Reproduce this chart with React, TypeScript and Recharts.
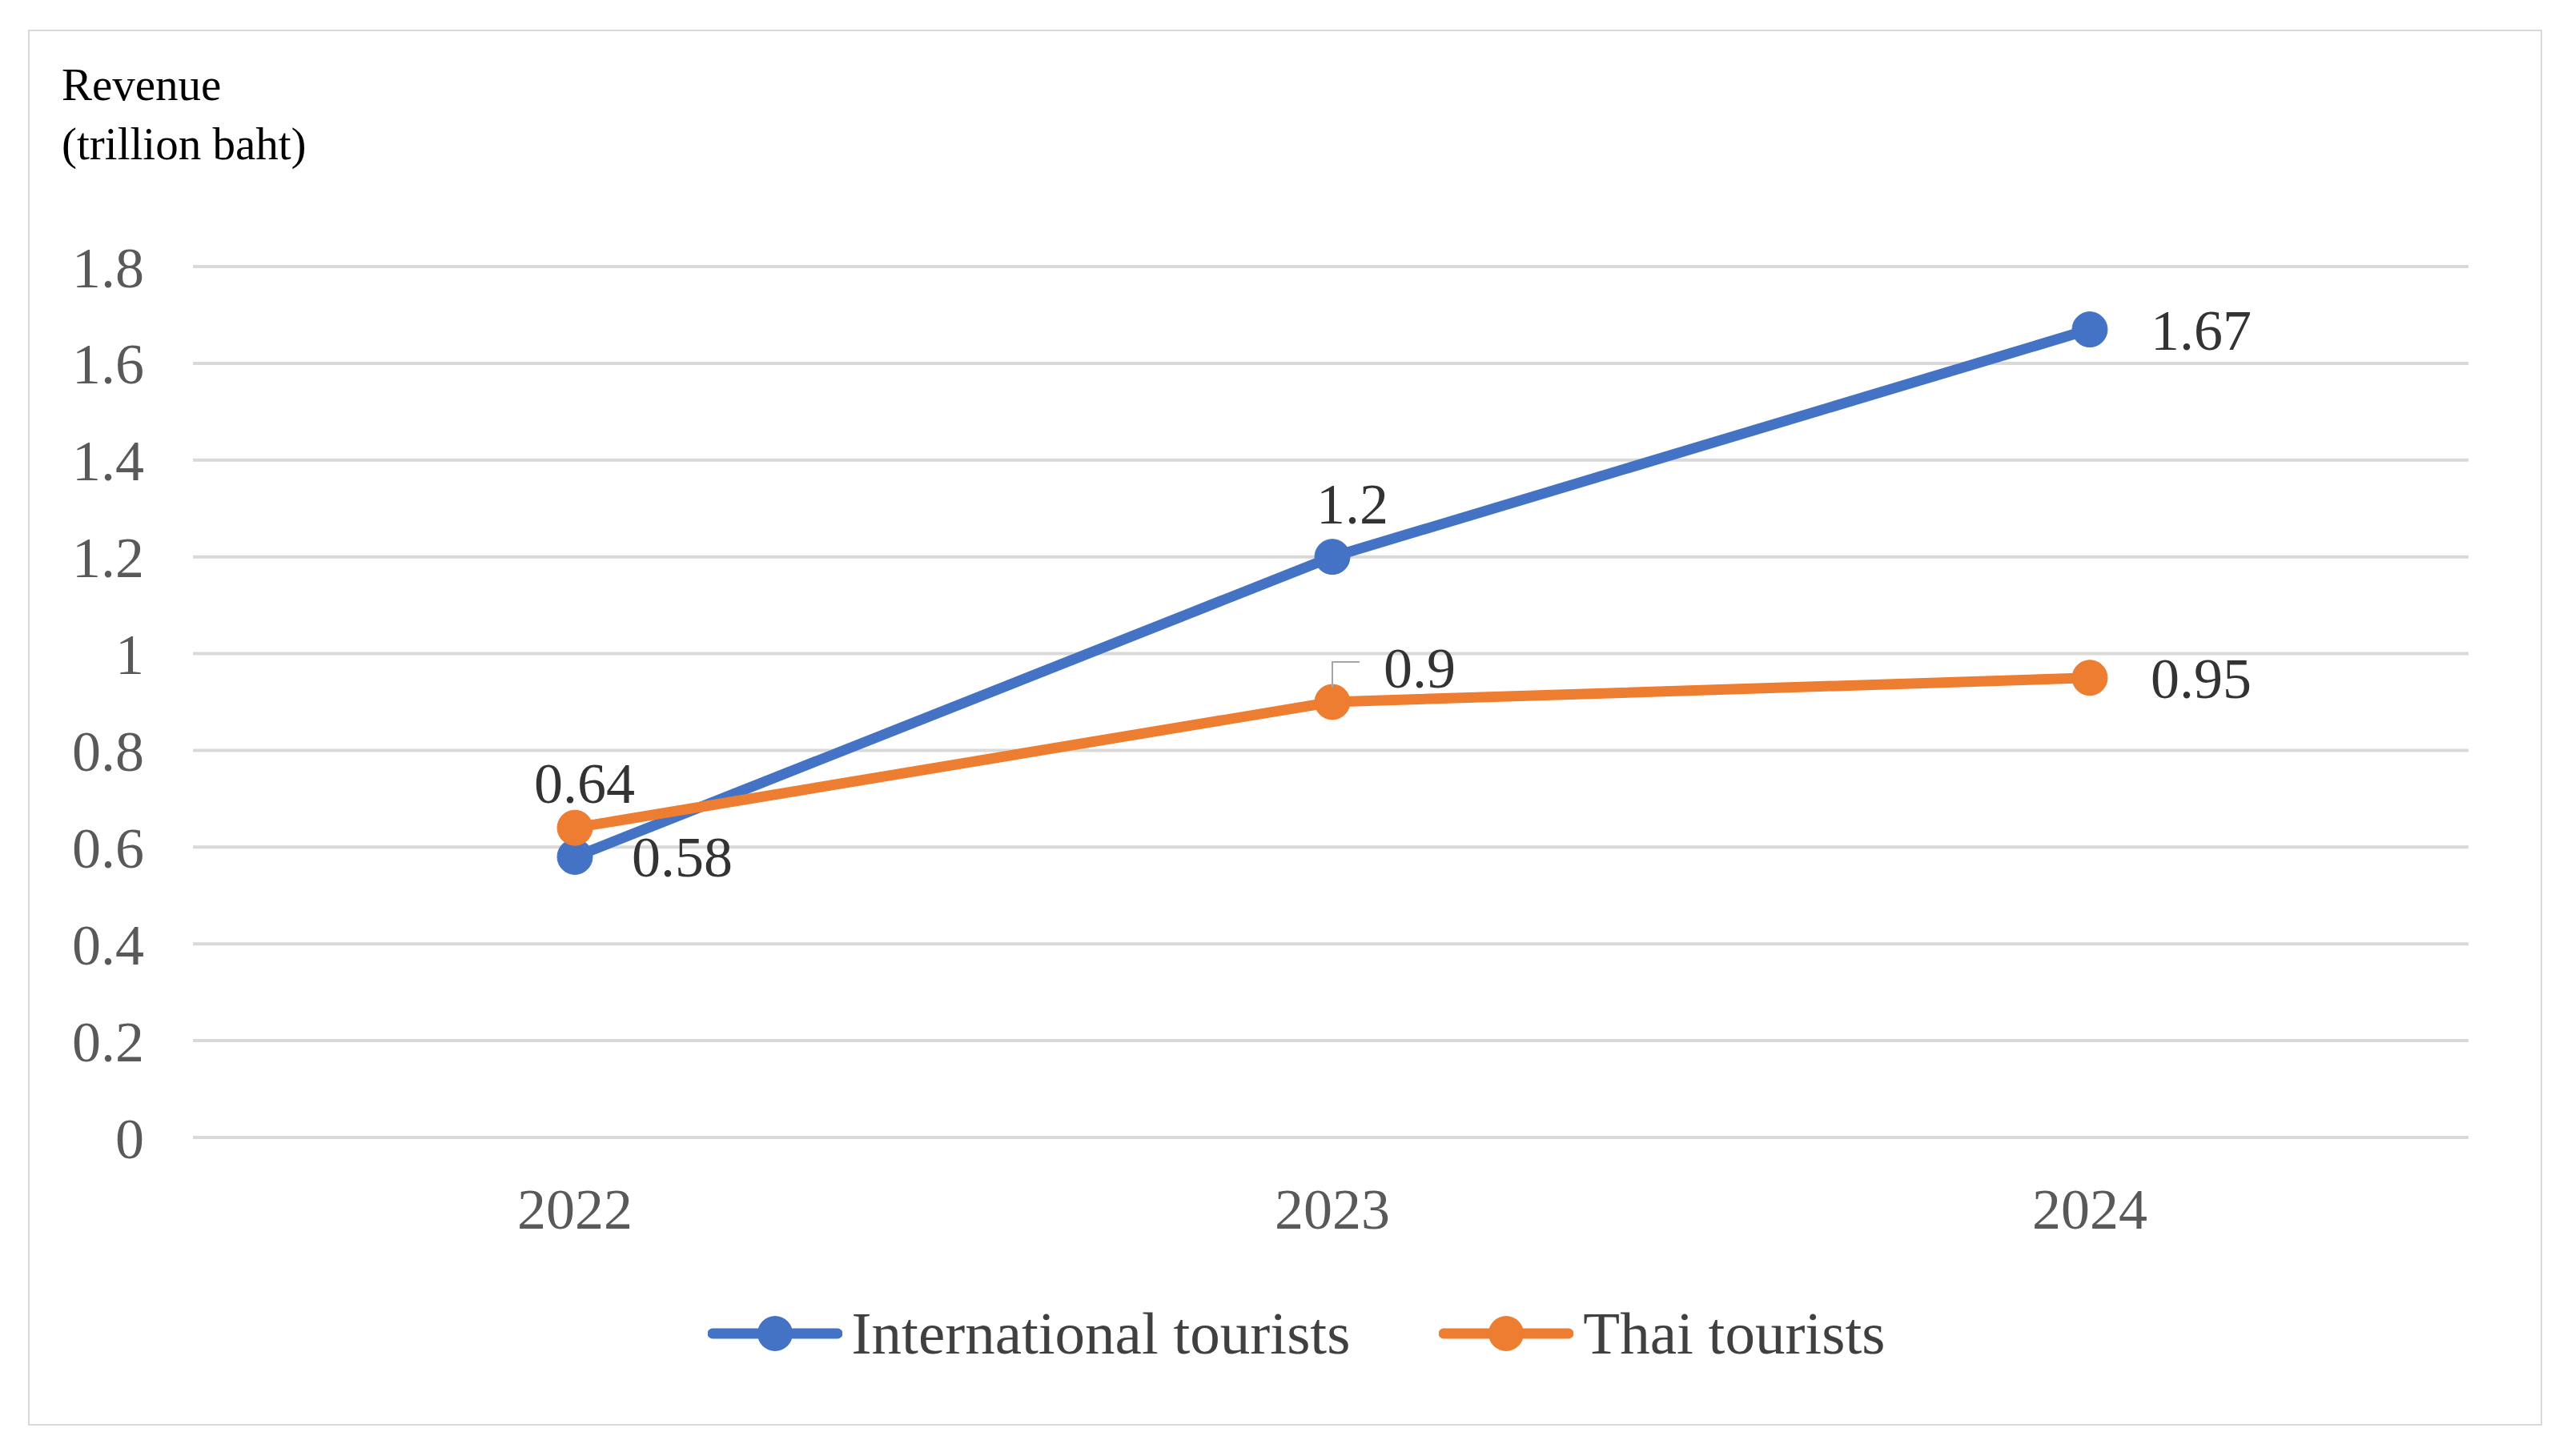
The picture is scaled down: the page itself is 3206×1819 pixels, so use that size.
import React from "react";
import {
  LineChart,
  Line,
  XAxis,
  YAxis,
  CartesianGrid,
  LabelList,
} from "recharts";

// Chart data
const years = ["2022", "2023", "2024"];
const internationalTourists = [0.58, 1.2, 1.67];
const thaiTourists = [0.64, 0.9, 0.95];
const yTicks = [0, 0.2, 0.4, 0.6, 0.8, 1, 1.2, 1.4, 1.6, 1.8];
const seriesNames = ["International tourists", "Thai tourists"];

const data = years.map((year, i) => ({
  year,
  international: internationalTourists[i],
  thai: thaiTourists[i],
}));

const FONT = '"Liberation Serif", "Times New Roman", serif';
const BLUE = "#4472C4";
const ORANGE = "#ED7D31";
const GRID = "#D9D9D9";

const W = 3136;
const H = 1740;

// label placement per point (offset from the point)
type Place = { dx: number; dy: number; anchor: "start" | "middle"; leader?: boolean };
const intlPlaces: Place[] = [
  { dx: 71, dy: 25, anchor: "start" },
  { dx: 25, dy: -42, anchor: "middle" },
  { dx: 76, dy: 25, anchor: "start" },
];
const thaiPlaces: Place[] = [
  { dx: 12, dy: -31, anchor: "middle" },
  { dx: 64, dy: -18, anchor: "start", leader: true },
  { dx: 76, dy: 25, anchor: "start" },
];

const makeLabel = (places: Place[]) => (props: any) => {
  const { x, y, value, index } = props;
  const p = places[index];
  if (!p) return null;
  return (
    <g key={`lbl-${index}`}>
      {p.leader && (
        <polyline
          points={`${x},${y - 18} ${x},${y - 50} ${x + 34},${y - 50}`}
          fill="none"
          stroke="#A6A6A6"
          strokeWidth={2}
        />
      )}
      <text
        x={x + p.dx}
        y={y + p.dy}
        textAnchor={p.anchor}
        fontFamily={FONT}
        fontSize={72}
        fill="#333333"
      >
        {value}
      </text>
    </g>
  );
};

const LegendIcon: React.FC<{ color: string }> = ({ color }) => (
  <svg width={168} height={46} style={{ display: "block" }}>
    <line x1={6} y1={23} x2={162} y2={23} stroke={color} strokeWidth={13} strokeLinecap="round" />
    <circle cx={84} cy={23} r={22} fill={color} />
  </svg>
);

const App: React.FC = () => {
  return (
    <div style={{ paddingLeft: 27, paddingTop: 29 }}>
      <div
        style={{
          position: "relative",
          width: W + 4,
          height: H + 4,
          border: `2px solid ${GRID}`,
          boxSizing: "border-box",
          background: "#fff",
        }}
      >
        {/* Axis title */}
        <svg width={500} height={200} style={{ position: "absolute", left: 0, top: 0 }}>
          <text x={40} y={86} fontFamily={FONT} fontSize={57} fill="#000">
            Revenue
          </text>
          <text x={40} y={160} fontFamily={FONT} fontSize={57} fill="#000">
            (trillion baht)
          </text>
        </svg>

        <LineChart
          width={W}
          height={H}
          data={data}
          margin={{ top: 294, right: 90, bottom: 258, left: 54 }}
        >
          <CartesianGrid vertical={false} stroke={GRID} strokeWidth={4} />
          <XAxis
            dataKey="year"
            axisLine={false}
            tickLine={false}
            tickSize={0}
            tickMargin={63}
            height={100}
            padding={{ left: 477, right: 473 }}
            tick={{ fontFamily: FONT, fontSize: 72, fill: "#595959" }}
          />
          <YAxis
            domain={[0, 1.8]}
            ticks={yTicks}
            width={150}
            axisLine={false}
            tickLine={false}
            tickSize={0}
            tickMargin={61}
            tickFormatter={(v) => String(v)}
            tick={{ fontFamily: FONT, fontSize: 72, fill: "#595959" }}
          />
          <Line
            dataKey="international"
            name={seriesNames[0]}
            stroke={BLUE}
            strokeWidth={13}
            dot={{ r: 22, fill: BLUE, stroke: BLUE, strokeWidth: 1 }}
            activeDot={false}
            isAnimationActive={false}
          >
            <LabelList dataKey="international" content={makeLabel(intlPlaces)} />
          </Line>
          <Line
            dataKey="thai"
            name={seriesNames[1]}
            stroke={ORANGE}
            strokeWidth={13}
            dot={{ r: 22, fill: ORANGE, stroke: ORANGE, strokeWidth: 1 }}
            activeDot={false}
            isAnimationActive={false}
          >
            <LabelList dataKey="thai" content={makeLabel(thaiPlaces)} />
          </Line>
        </LineChart>

        {/* Legend */}
        <div
          style={{
            position: "absolute",
            left: 14,
            top: 1627 - 45,
            width: W,
            height: 90,
            display: "flex",
            justifyContent: "center",
            alignItems: "center",
            fontFamily: FONT,
            fontSize: 75,
            color: "#404040",
          }}
        >
          {seriesNames.map((name, i) => (
            <div
              key={name}
              style={{
                display: "flex",
                alignItems: "center",
                marginRight: i === 0 ? 111 : 0,
              }}
            >
              <LegendIcon color={i === 0 ? BLUE : ORANGE} />
              <span style={{ marginLeft: 12, lineHeight: "90px", whiteSpace: "nowrap" }}>{name}</span>
            </div>
          ))}
        </div>
      </div>
    </div>
  );
};

export default App;
